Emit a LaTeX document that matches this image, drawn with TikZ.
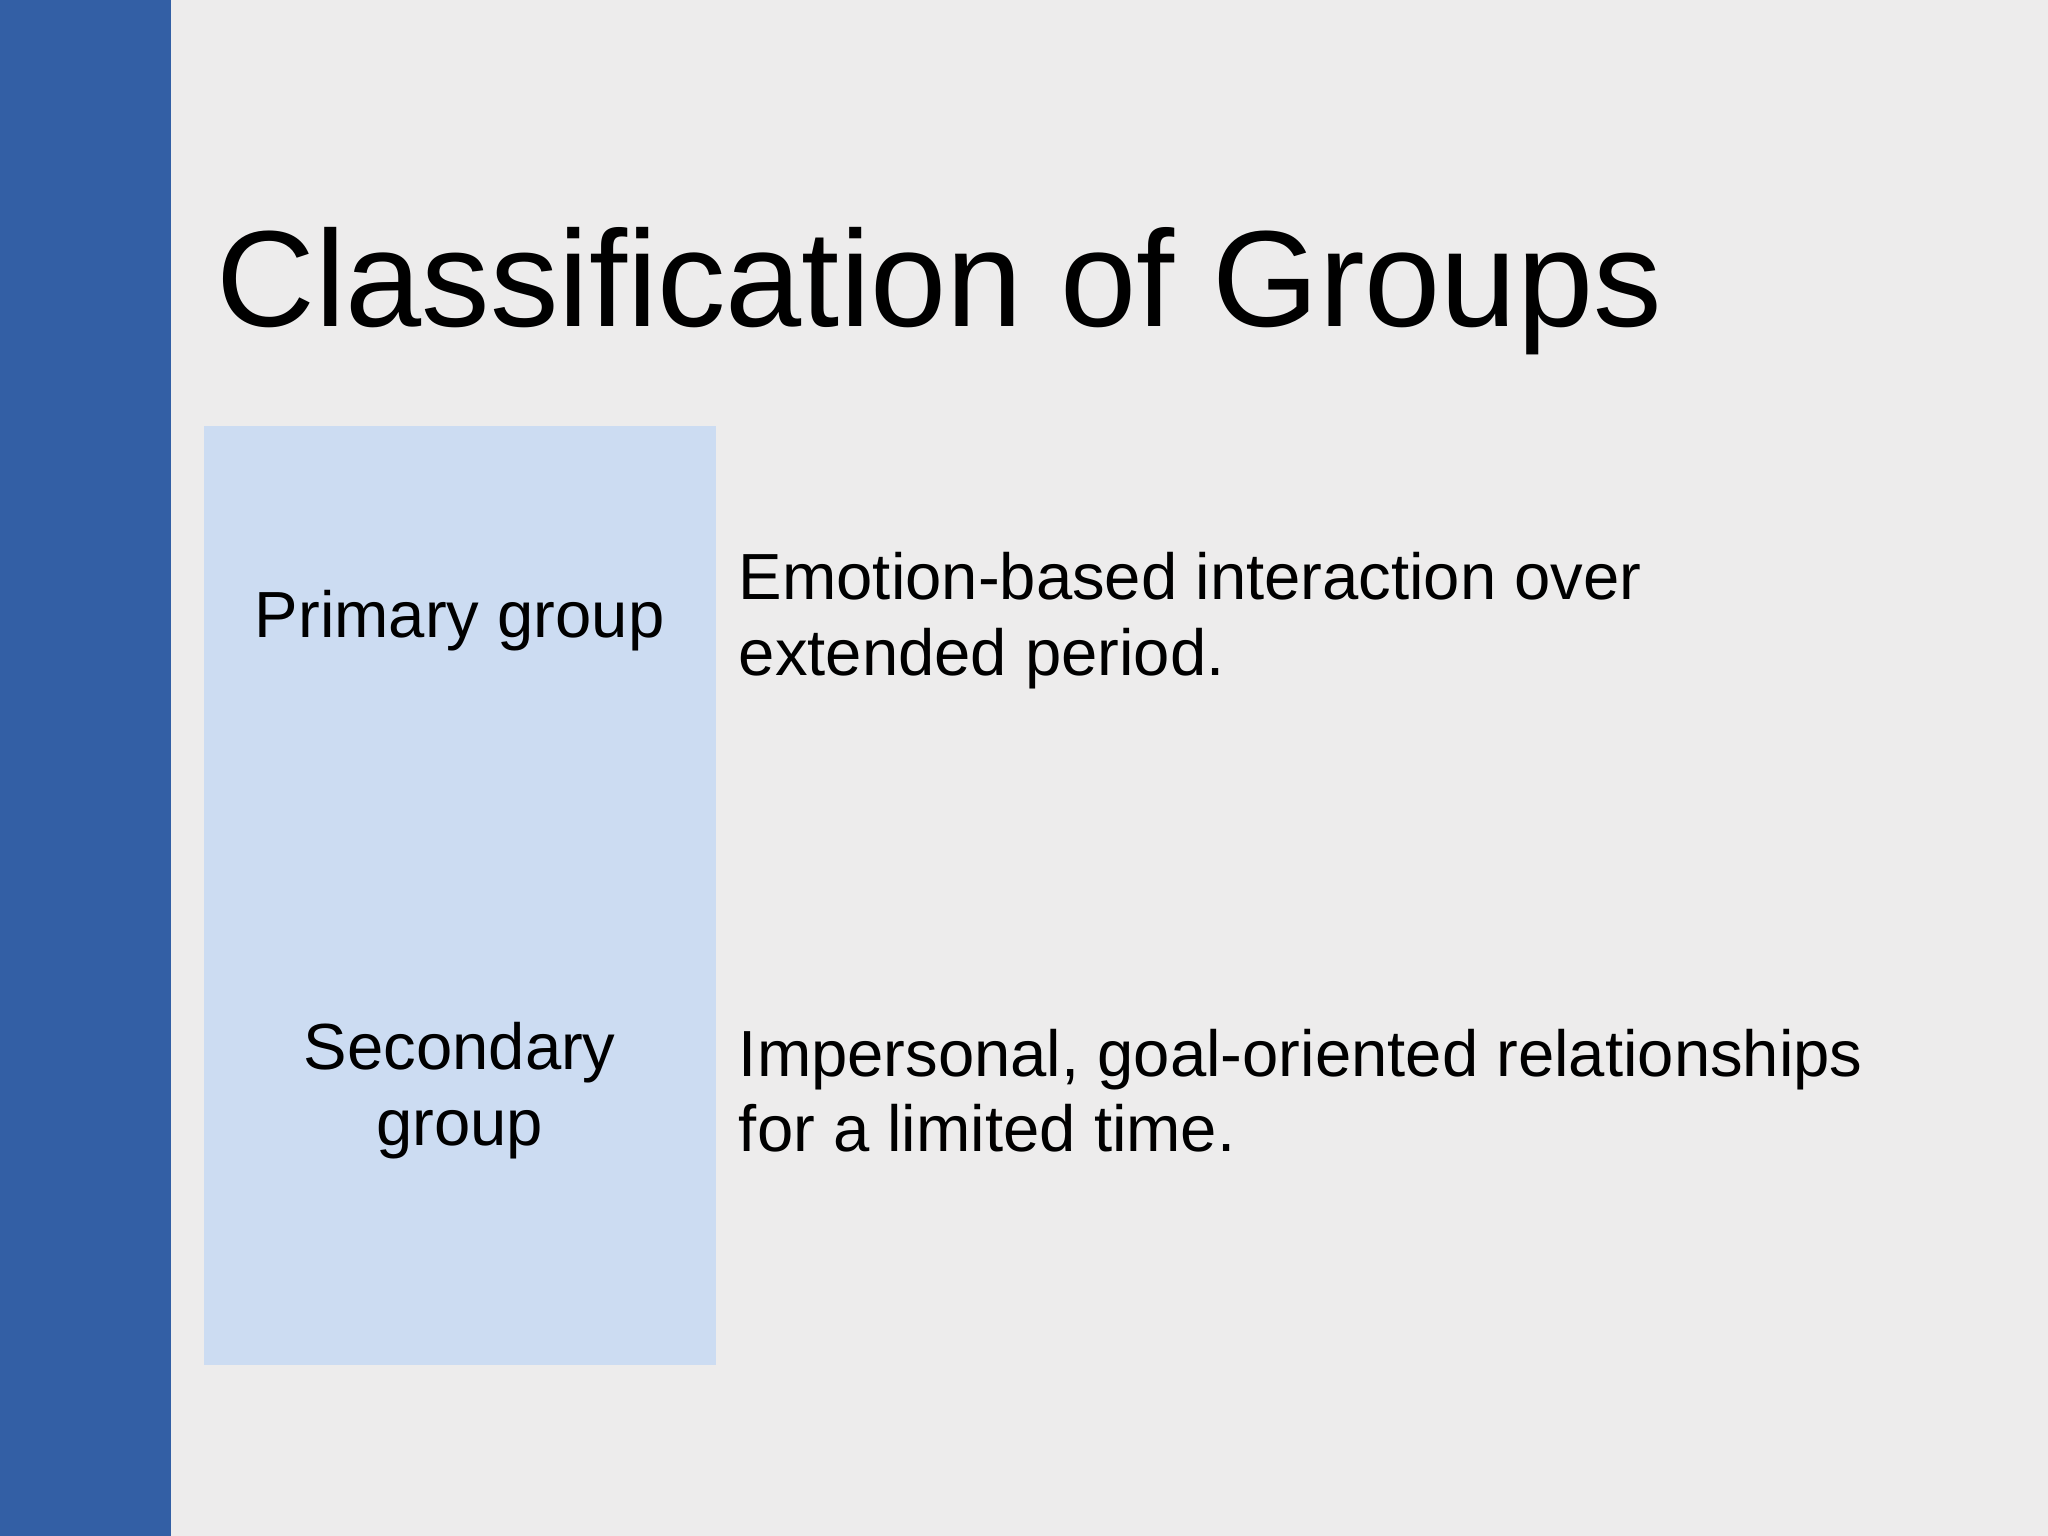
\documentclass[tikz,border=0pt]{standalone}
\usepackage{fontspec}
\setmainfont{Liberation Sans}
\definecolor{bg}{HTML}{EDECEC}
\definecolor{bar}{HTML}{335FA5}
\definecolor{boxc}{HTML}{CCDCF2}
\begin{document}
\begin{tikzpicture}[x=0.01cm,y=-0.01cm,
  body/.style={font=\fontsize{14.2pt}{16.5pt}\selectfont, inner sep=0pt, text=black}]
\useasboundingbox (0,0) rectangle (1568,1176);
\fill[bg] (0,0) rectangle (1568,1176);
\fill[bar] (0,0) rectangle (131,1176);
\node[anchor=base west, inner sep=0pt, font=\fontsize{29.8pt}{34pt}\selectfont] (title) at (165,250) {Classification of Groups};
\fill[boxc] (156,326) rectangle (548,1045);
\node[body, align=center] (p) at (352,475) {Primary group};
\node[body, align=center] (s) at (352,835) {Secondary\\group};
\node[body, align=left, anchor=west] (pd) at (565,475) {Emotion-based interaction over\\extended period.};
\node[body, align=left, anchor=west] (sd) at (565,835) {Impersonal, goal-oriented relationships\\for a limited time.};
\end{tikzpicture}
\end{document}
